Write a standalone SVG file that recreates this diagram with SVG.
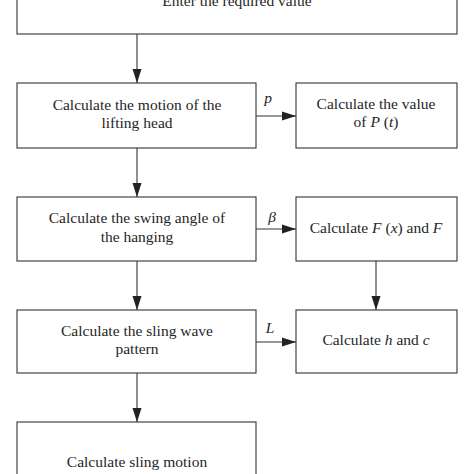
<svg xmlns="http://www.w3.org/2000/svg" width="474" height="474" viewBox="0 0 474 474">
<style>
.box{fill:#fff;stroke:#333;stroke-width:1.1}
.t{font-family:"Liberation Serif","Times New Roman",serif;font-size:15.5px;fill:#262626;text-anchor:middle}
.lbl{font-family:"Liberation Serif","Times New Roman",serif;font-size:15.5px;fill:#262626;font-style:italic;text-anchor:middle}
.c{stroke:#333;stroke-width:1.1;fill:none}
.i{font-style:italic}
</style>
<defs>
<marker id="ah" markerWidth="14" markerHeight="10" refX="14" refY="5" orient="auto" markerUnits="userSpaceOnUse">
<path d="M0,0.5 L14,5 L0,9.5 Z" fill="#222"/>
</marker>
</defs>
<rect width="474" height="474" fill="#fff"/>
<g id="connectors">
<line class="c" x1="137" y1="34" x2="137" y2="83" marker-end="url(#ah)"/>
<line class="c" x1="256" y1="116" x2="296" y2="116" marker-end="url(#ah)"/>
<line class="c" x1="137" y1="148" x2="137" y2="197" marker-end="url(#ah)"/>
<line class="c" x1="256" y1="229" x2="296" y2="229" marker-end="url(#ah)"/>
<line class="c" x1="137" y1="261" x2="137" y2="310" marker-end="url(#ah)"/>
<line class="c" x1="376" y1="261" x2="376" y2="310" marker-end="url(#ah)"/>
<line class="c" x1="256" y1="342" x2="296" y2="342" marker-end="url(#ah)"/>
<line class="c" x1="137" y1="373" x2="137" y2="422" marker-end="url(#ah)"/>
<text class="lbl" x="268" y="103">p</text>
<text class="lbl" x="272" y="222">β</text>
<text class="lbl" x="270" y="333">L</text>
</g>
<g id="n1">
<rect class="box" x="17" y="-20" width="440" height="54"/>
<text class="t" x="237" y="6">Enter the required value</text>
</g>
<g id="n2">
<rect class="box" x="17" y="83" width="239" height="65"/>
<text class="t" x="137" y="110">Calculate the motion of the</text>
<text class="t" x="137" y="128">lifting head</text>
</g>
<g id="n3">
<rect class="box" x="296" y="83" width="161" height="65"/>
<text class="t" x="376" y="109">Calculate the value</text>
<text class="t" x="376" y="127">of <tspan class="i">P</tspan> (<tspan class="i">t</tspan>)</text>
</g>
<g id="n4">
<rect class="box" x="17" y="197" width="239" height="64"/>
<text class="t" x="137" y="223">Calculate the swing angle of</text>
<text class="t" x="137" y="241.5">the hanging</text>
</g>
<g id="n5">
<rect class="box" x="296" y="197" width="161" height="64"/>
<text class="t" x="376" y="233">Calculate <tspan class="i">F</tspan> (<tspan class="i">x</tspan>) and <tspan class="i">F</tspan></text>
</g>
<g id="n6">
<rect class="box" x="17" y="310" width="239" height="63"/>
<text class="t" x="137" y="336">Calculate the sling wave</text>
<text class="t" x="137" y="354">pattern</text>
</g>
<g id="n7">
<rect class="box" x="296" y="310" width="161" height="63"/>
<text class="t" x="376" y="345">Calculate <tspan class="i">h</tspan> and <tspan class="i">c</tspan></text>
</g>
<g id="n8">
<rect class="box" x="17" y="422" width="239" height="70"/>
<text class="t" x="137" y="467">Calculate sling motion</text>
</g>
</svg>
